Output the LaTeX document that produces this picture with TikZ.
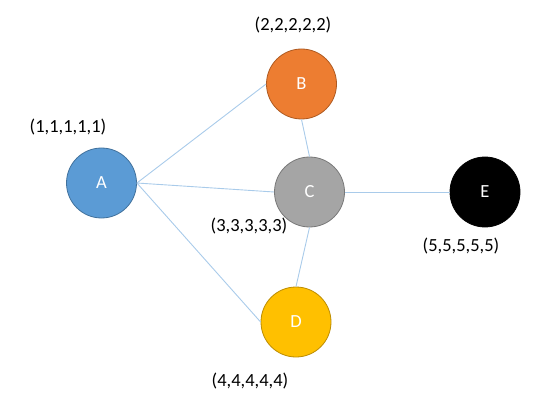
\documentclass[tikz,border=0pt]{standalone}
\usepackage{fontspec}
\setmainfont{Carlito}
\definecolor{cA}{HTML}{5B9BD5}\definecolor{bA}{HTML}{41719C}
\definecolor{cB}{HTML}{ED7D31}\definecolor{bB}{HTML}{AE5A21}
\definecolor{cC}{HTML}{A5A5A5}\definecolor{bC}{HTML}{787878}
\definecolor{cD}{HTML}{FFC000}\definecolor{bD}{HTML}{BC8C00}
\definecolor{edgec}{HTML}{A9CBEA}
\begin{document}
\begin{tikzpicture}[x=1pt,y=-1pt,
  vertex/.style={circle,minimum size=70pt,inner sep=0pt,line width=0.8pt,text=white,font=\fontsize{18.5}{22}\selectfont},
  lbl/.style={font=\fontsize{18.5}{22}\selectfont,inner sep=0pt},
  link/.style={draw=edgec,line width=0.9pt}]
\useasboundingbox (0,0) rectangle (557,417);
\node[vertex,fill=cA,draw=bA] (A) at (101.5,183) {A};
\node[vertex,fill=cB,draw=bB] (B) at (301.5,84) {B};
\node[vertex,fill=cC,draw=bC] (C) at (309.5,192) {C};
\node[vertex,fill=cD,draw=bD] (D) at (296,322) {D};
\node[vertex,fill=black,draw=black] (E) at (485,192) {E};
\draw[link] (A.east) -- (B.west);
\draw[link] (A.east) -- (C.west);
\draw[link] (A.east) -- (D.west);
\draw[link] (B.south) -- (C.north);
\draw[link] (C.south) -- (D.north);
\draw[link] (C.east) -- (E.west);
\node[lbl] (lA) at (68,127) {(1,1,1,1,1)};
\node[lbl] (lB) at (293,25) {(2,2,2,2,2)};
\node[lbl] (lC) at (249,226) {(3,3,3,3,3)};
\node[lbl] (lD) at (250,381) {(4,4,4,4,4)};
\node[lbl] (lE) at (461,246) {(5,5,5,5,5)};
\end{tikzpicture}
\end{document}
